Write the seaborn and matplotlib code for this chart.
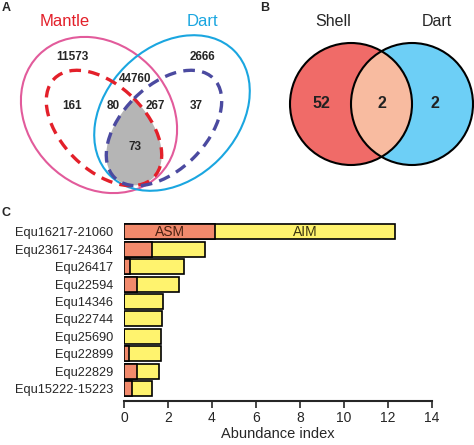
import seaborn as sns
import matplotlib.pyplot as plt
import pandas as pd
from matplotlib.patches import Ellipse, Circle

# panel C data (abundance index, ASM part + AIM part)
genes = ["Equ16217-21060", "Equ23617-24364", "Equ26417", "Equ22594", "Equ14346",
         "Equ22744", "Equ25690", "Equ22899", "Equ22829", "Equ15222-15223"]
asm = [4.14, 1.29, 0.26, 0.61, 0.0, 0.0, 0.0, 0.24, 0.59, 0.38]
aim = [8.19, 2.41, 2.48, 1.89, 1.79, 1.74, 1.67, 1.43, 1.00, 0.91]

# panel A counts
mantle_only, dart_only, shared = 11573, 2666, 44760
red_only, red_mid, blue_mid, blue_only, both = 161, 80, 267, 37, 73

# panel B counts
shell_only, shell_dart, dart_b_only = 52, 2, 2

sns.set_style("ticks")
plt.rcParams['font.family'] = ['Liberation Sans', 'DejaVu Sans']

fig = plt.figure(figsize=(4.74, 4.45), dpi=100)

#===========================================================
# C: stacked horizontal bars
ax = fig.add_axes([124/474, 1-401/445, 308/474, 178/445])
df = pd.DataFrame({"gene": genes, "asm": asm, "aim": aim})
df["total"] = df["asm"] + df["aim"]

sns.barplot(data=df, x="total", y="gene", color="#fff36e", edgecolor="black",
            linewidth=1.2, width=0.86, errorbar=None, orient="h", saturation=1, ax=ax)
sns.barplot(data=df, x="asm", y="gene", color="#f28a6c", edgecolor="black",
            linewidth=1.2, width=0.86, errorbar=None, orient="h", saturation=1, ax=ax)

ax.text(df["asm"][0]/2, 0, "ASM", ha="center", va="center", fontsize=10, color="#4a2010")
ax.text(df["asm"][0] + df["aim"][0]/2, 0, "AIM", ha="center", va="center", fontsize=10, color="#3a3410")

ax.set_xlim(0, 14)
ax.set_ylim(9.7, -0.5)
ax.set_xticks(range(0, 15, 2))
ax.set_xlabel("Abundance index", fontsize=10.5, labelpad=2)
ax.set_ylabel("")
ax.tick_params(axis="x", labelsize=10, width=1.2, length=5, pad=2)
ax.tick_params(axis="y", labelsize=9.2, length=0, pad=8)
sns.despine(ax=ax, left=True)
ax.spines["bottom"].set_linewidth(1.5)

#===========================================================
# A and B: Venn diagrams drawn in pixel coordinates
va = fig.add_axes([0, 0, 1, 1])
va.set_xlim(0, 474)
va.set_ylim(445, 0)
va.axis("off")

# A
va.add_patch(Ellipse((99, 115), 170, 141, angle=45, fill=False, ec="#e25b9b", lw=1.5))
va.add_patch(Ellipse((172, 113), 176, 132, angle=-45, fill=False, ec="#1aa6e0", lw=1.5))
purple = Ellipse((164, 128), 140, 84, angle=-45, fill=False, ec="none")
va.add_patch(purple)
grey = Ellipse((104, 128), 140, 84, angle=45, fc="#b5b5b5", ec="none")
va.add_patch(grey)
grey.set_clip_path(purple)
va.add_patch(Ellipse((104, 128), 140, 84, angle=45, fill=False, ec="#e3202a",
                     lw=2.4, ls=(0, (3.5, 2.2))))
va.add_patch(Ellipse((164, 128), 140, 84, angle=-45, fill=False, ec="#4b4aa0",
                     lw=2.4, ls=(0, (3.5, 2.2))))

va.text(65, 22, "Mantle", color="#e3202a", fontsize=12, ha="center", va="center")
va.text(202, 22, "Dart", color="#1aa6e0", fontsize=12, ha="center", va="center")
num_a = dict(fontsize=8.5, fontweight="bold", ha="center", va="center")
va.text(72, 57, f"{mantle_only}", **num_a)
va.text(202, 57, f"{dart_only}", **num_a)
va.text(135, 79, f"{shared}", **num_a)
va.text(72, 106, f"{red_only}", **num_a)
va.text(113, 106, f"{red_mid}", **num_a)
va.text(155, 106, f"{blue_mid}", **num_a)
va.text(196, 106, f"{blue_only}", **num_a)
va.text(135, 147, f"{both}", **num_a)

# B
shell_c = Circle((351, 104), 61, fc="#f06b68", ec="none")
dart_c = Circle((412, 104), 61, fc="#6dcff6", ec="none")
va.add_patch(shell_c)
va.add_patch(dart_c)
mid = Circle((351, 104), 61, fc="#f8bba0", ec="none")
va.add_patch(mid)
mid.set_clip_path(dart_c)
va.add_patch(Circle((351, 104), 61, fill=False, ec="black", lw=1.5))
va.add_patch(Circle((412, 104), 61, fill=False, ec="black", lw=1.5))

va.text(333, 22, "Shell", fontsize=11.5, ha="center", va="center")
va.text(437, 22, "Dart", fontsize=11.5, ha="center", va="center")
num_b = dict(fontsize=11.5, fontweight="bold", ha="center", va="center", color="#222222")
va.text(321, 104, f"{shell_only}", **num_b)
va.text(382, 104, f"{shell_dart}", **num_b)
va.text(435, 104, f"{dart_b_only}", **num_b)

# panel letters
va.text(6, 8, "A", fontsize=9, fontweight="bold", ha="center", va="center")
va.text(265, 8, "B", fontsize=9, fontweight="bold", ha="center", va="center")
va.text(6, 213, "C", fontsize=9, fontweight="bold", ha="center", va="center")

fig.savefig("out.png", dpi=100)
